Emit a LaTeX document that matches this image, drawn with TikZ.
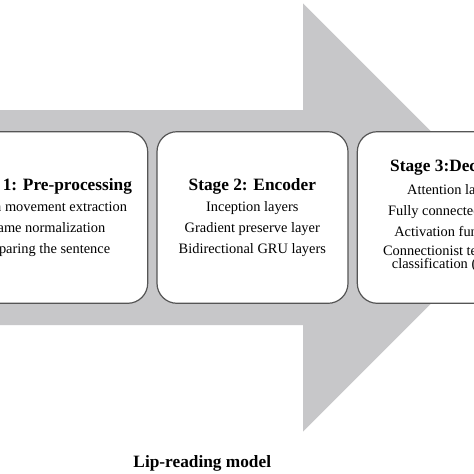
\documentclass[tikz,border=0pt]{standalone}
\usepackage{fontspec}
\setmainfont{Liberation Serif}
\definecolor{arrowgray}{RGB}{199,199,201}
\definecolor{boxline}{RGB}{85,85,85}
\tikzset{
  stagebox/.style={draw=boxline, fill=white, line width=1.2pt, rounded corners=20pt,
    minimum width=191pt, minimum height=171.6pt, inner sep=0pt},
  titletxt/.style={anchor=base, inner sep=0pt, font=\fontsize{17.3}{20}\selectfont\bfseries},
  itemtxt/.style={anchor=base, inner sep=0pt, font=\fontsize{14.4}{16}\selectfont},
}
\begin{document}
\begin{tikzpicture}[x=1pt, y=-1pt]
\useasboundingbox (0,0) rectangle (474,474);
\clip (0,0) rectangle (474,474);
\fill[white] (0,0) rectangle (474,474);
% big arrow
\fill[arrowgray] (-20,110) -- (303,110) -- (303,3.3) -- (517,217.5) -- (303,431.7) -- (303,325) -- (-20,325) -- cycle;
% boxes
\node[stagebox] (b1) at (52.2,217.5) {};
\node[stagebox] (b2) at (252.5,217.5) {};
\node[stagebox] (b3) at (452.8,217.5) {};
% stage 1
\node[titletxt] (t1) at (45,190.7) {Stage 1: Pre-processing};
\node[itemtxt] (t1a) at (45,211.7) {Mouth movement extraction};
\node[itemtxt] (t1b) at (45,232.7) {Frame normalization};
\node[itemtxt] (t1c) at (45,253.5) {Preparing the sentence};
% stage 2
\node[titletxt] (t2) at (252.3,190.7) {Stage 2: Encoder};
\node[itemtxt] (t2a) at (252.3,211.7) {Inception layers};
\node[itemtxt] (t2b) at (252.3,232.7) {Gradient preserve layer};
\node[itemtxt] (t2c) at (252.3,253.5) {Bidirectional GRU layers};
% stage 3
\node[titletxt] (t3) at (450.5,171.7) {Stage 3:Decoder};
\node[itemtxt] (t3a) at (450.5,194.3) {Attention layer};
\node[itemtxt] (t3b) at (450.5,215) {Fully connected layer};
\node[itemtxt] (t3c) at (450.5,236) {Activation function};
\node[itemtxt] (t3d) at (450.5,255.5) {Connectionist temporal};
\node[itemtxt] (t3e) at (450.5,268) {classification (CTC)};
% caption
\node[titletxt] (cap) at (202.3,467) {Lip-reading model};
\end{tikzpicture}
\end{document}
